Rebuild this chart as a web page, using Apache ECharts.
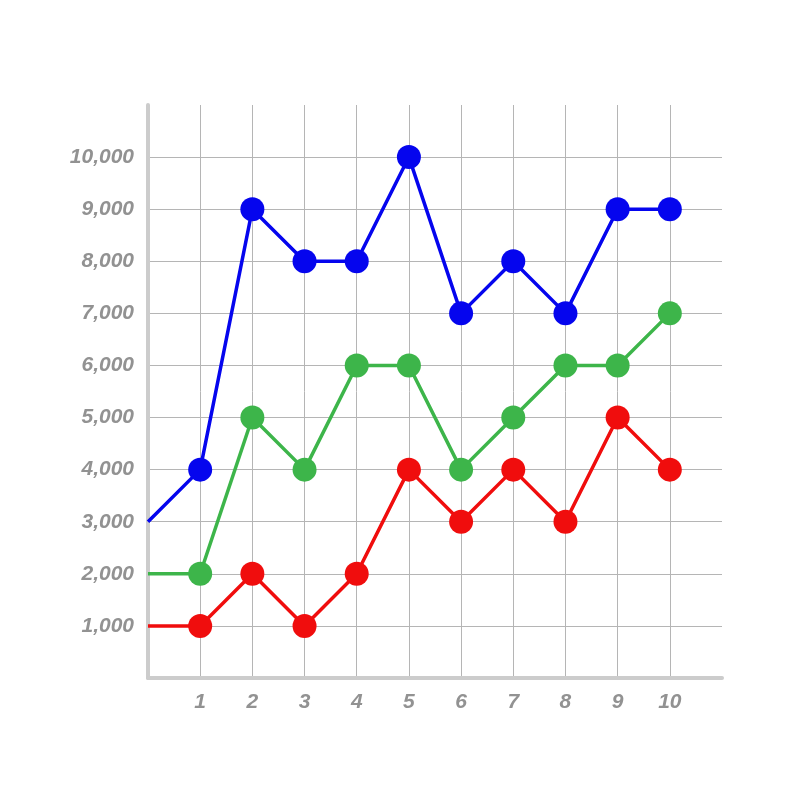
<!DOCTYPE html>
<html><head><meta charset="utf-8">
<script src="https://cdn.jsdelivr.net/npm/echarts@6/dist/echarts.min.js"></script>
<style>html,body{margin:0;padding:0;background:#fff}#c{width:800px;height:800px}</style>
</head><body><div id="c"></div>
<script>
const xs = [0,1,2,3,4,5,6,7,8,9,10];
const blue = [3000,4000,9000,8000,8000,10000,7000,8000,7000,9000,9000];
const green = [2000,2000,5000,4000,6000,6000,4000,5000,6000,6000,7000];
const red = [1000,1000,2000,1000,2000,4000,3000,4000,3000,5000,4000];

function pts(vals){ return xs.map((x,i)=>({value:[x,vals[i]], symbolSize: x===0?0:24})); }
const labelStyle = {color:'#929292', fontFamily:'Liberation Sans, Arial', fontWeight:'bold', fontStyle:'italic', fontSize:21};
const chart = echarts.init(document.getElementById('c'));
chart.setOption({
  animation:false,
  grid:{left:148,right:78,top:105,bottom:122,containLabel:false},
  xAxis:{type:'value',min:0,max:11,interval:1,
    axisLine:{show:true,onZero:false,lineStyle:{color:'#cccccc',width:4}},
    axisTick:{show:false},
    axisLabel:{...labelStyle,margin:14,showMinLabel:false,showMaxLabel:false},
    splitLine:{show:true,showMinLine:false,showMaxLine:false,lineStyle:{color:'#b5b5b5',width:1}}},
  yAxis:{type:'value',min:0,max:11000,interval:1000,
    axisLine:{show:true,onZero:false,lineStyle:{color:'#cccccc',width:4}},
    axisTick:{show:false},
    axisLabel:{...labelStyle,margin:14,showMinLabel:false,showMaxLabel:false,
      formatter:v=>v.toLocaleString('en-US')},
    splitLine:{show:true,showMinLine:false,showMaxLine:false,lineStyle:{color:'#b5b5b5',width:1}}},
  series:[
    {type:'line',data:pts(red),symbol:'circle',color:'#f00d0d',lineStyle:{width:3.5},itemStyle:{color:'#f00d0d'}},
    {type:'line',data:pts(green),symbol:'circle',color:'#3db54a',lineStyle:{width:3.5},itemStyle:{color:'#3db54a'}},
    {type:'line',data:pts(blue),symbol:'circle',color:'#0505ee',lineStyle:{width:3.5},itemStyle:{color:'#0505ee'}}
  ]
});
</script></body></html>
